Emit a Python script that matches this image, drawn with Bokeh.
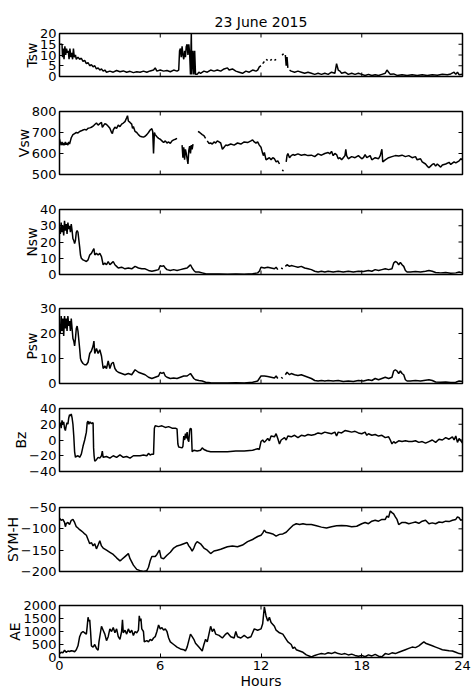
import math
from bokeh.plotting import figure
from bokeh.models import Range1d, FixedTicker
from bokeh.layouts import column
from bokeh.embed import file_html
from bokeh.resources import INLINE

nan = float("nan")
FONT = "DejaVu Sans"

title_text = "23 June 2015"
hour_ticks = [0, 6, 12, 18, 24]
x_label = "Hours"

tsw = [(0.0,15),(0.15,15),(0.18,9),(0.22,13),(0.27,8),(0.32,14),(0.37,10),(0.42,13),(0.47,11),(0.52,12),
       (0.57,8),(0.62,13),(0.68,9),(0.72,11),(0.78,8),(0.83,13),(0.88,9),(0.95,10),(1.0,8),(1.1,9),
       (1.2,8),(1.3,8.5),(1.4,7),(1.5,7.5),(1.6,6),(1.7,6.5),(1.8,5),(1.9,5.5),(2.0,4.5),(2.1,5),
       (2.2,3.5),(2.3,4),(2.4,3),(2.5,3.5),(2.6,2.5),(2.7,3),(2.8,2),(3.0,2.5),(3.2,2),(3.4,2.8),
       (3.6,2.2),(3.8,2.6),(4.0,2),(4.2,2.4),(4.4,1.8),(4.6,2.2),(4.8,2),(5.0,2.5),(5.2,2),(5.4,2.6),
       (5.6,3),(5.7,4),(5.8,2.5),(6.0,3),(6.2,2.5),(6.4,2.8),(6.6,2.2),(6.8,3),(7.0,2.5),(7.1,3),
       (7.15,12),(7.2,13),(7.25,9),(7.3,14),(7.35,10),(7.4,8),(7.45,12),(7.5,9),(7.55,14),(7.6,15),
       (7.65,10),(7.7,15),(7.75,11),(7.8,1),(7.85,20),(7.88,1),(7.95,12),(8.0,1),(8.05,12),(8.1,1),
       (8.2,1),(8.3,2),(8.4,1.5),(8.6,2.5),(8.8,2),(9.0,3),(9.2,2.5),(9.4,3),(9.6,2.5),(9.8,3.5),
       (10.0,4),(10.1,3),(10.3,3.5),(10.5,2.5),(10.7,2),(10.9,1.5),(11.1,2.5),(11.3,2),(11.5,3),(11.7,2.5),
       (11.8,3),(11.9,4.5),(12.0,5),(12.05,nan),(12.1,6),(12.2,7),(12.25,nan),(12.3,8),(12.4,7.5),(12.45,nan),
       (12.55,7.5),(12.65,8),(12.7,nan),(12.8,7.5),(12.9,8),(12.95,nan),(13.0,5.5),(13.05,nan),(13.1,9),(13.15,nan),
       (13.25,10),(13.35,10.5),(13.4,nan),(13.45,10),(13.5,5),(13.55,9),(13.6,4),(13.65,nan),(13.7,3),(13.8,2.5),
       (14.0,2),(14.2,2.5),(14.4,2),(14.6,1.5),(14.8,2),(15.0,1.5),(15.2,1),(15.4,1.5),(15.6,1),(15.8,1.5),
       (16.0,1),(16.2,2),(16.4,1.5),(16.5,6),(16.6,3),(16.7,2.5),(16.8,1.5),(17.0,2),(17.2,1),(17.4,1.5),
       (17.6,1),(17.8,1.5),(18.0,1),(18.2,0.5),(18.4,1),(18.6,0.5),(18.8,0.8),(19.0,0.5),(19.2,1),(19.4,1.5),
       (19.5,3),(19.6,2),(19.7,1),(19.9,1.2),(20.1,0.5),(20.4,0.8),(20.7,0.5),(21.0,0.8),(21.3,0.5),(21.6,0.8),
       (21.9,0.5),(22.2,0.8),(22.5,0.6),(22.8,1),(23.1,0.8),(23.3,1.2),(23.5,2),(23.6,1),(23.7,2),(23.8,0.8),
       (24.0,1)]

vsw = [(0.0,670),(0.05,650),(0.1,640),(0.15,655),(0.2,640),(0.25,650),(0.3,640),(0.35,655),(0.4,642),(0.45,650),
       (0.5,640),(0.55,655),(0.6,645),(0.65,660),(0.7,675),(0.8,690),(0.9,695),(1.0,700),(1.1,698),(1.2,705),
       (1.3,708),(1.4,712),(1.5,715),(1.6,712),(1.7,720),(1.8,722),(1.9,725),(2.0,730),(2.1,738),(2.2,745),
       (2.3,735),(2.4,742),(2.5,748),(2.55,725),(2.6,730),(2.7,742),(2.8,738),(2.9,730),(3.0,720),(3.1,700),
       (3.15,695),(3.2,712),(3.3,725),(3.4,720),(3.5,735),(3.6,728),(3.7,740),(3.8,745),(3.9,752),(4.0,770),
       (4.05,780),(4.1,755),(4.2,748),(4.3,740),(4.35,720),(4.4,728),(4.5,705),(4.6,700),(4.7,690),(4.8,682),
       (4.9,680),(5.0,678),(5.1,682),(5.2,690),(5.3,700),(5.4,712),(5.5,718),(5.55,705),(5.6,600),(5.65,700),
       (5.7,690),(5.8,680),(5.9,672),(6.0,668),(6.1,660),(6.2,652),(6.3,660),(6.4,650),(6.5,655),(6.6,648),
       (6.7,660),(6.8,665),(6.9,668),(7.0,672),(7.05,nan),(7.2,695),(7.22,nan),(7.3,640),(7.35,580),(7.4,630),
       (7.45,570),(7.5,620),(7.55,600),(7.6,575),(7.65,550),(7.7,615),(7.75,635),(7.8,600),(7.85,640),(7.9,620),
       (7.95,645),(8.0,nan),(8.25,705),(8.35,700),(8.5,690),(8.6,685),(8.7,672),(8.75,nan),(8.8,660),(8.9,648),
       (9.0,650),(9.1,645),(9.2,655),(9.3,650),(9.4,660),(9.5,655),(9.6,650),(9.7,620),(9.8,630),(9.9,640),
       (10.0,638),(10.2,645),(10.4,640),(10.6,650),(10.8,645),(11.0,655),(11.2,652),(11.4,660),(11.5,665),(11.6,655),
       (11.7,650),(11.8,655),(11.9,640),(12.0,630),(12.05,615),(12.1,600),(12.15,590),(12.2,605),(12.3,570),(12.4,575),
       (12.5,580),(12.6,570),(12.7,580),(12.8,575),(12.9,560),(13.0,565),(13.1,550),(13.15,nan),(13.25,520),(13.35,518),
       (13.4,nan),(13.5,560),(13.55,590),(13.6,600),(13.7,580),(13.8,590),(13.9,595),(14.0,592),(14.2,598),(14.4,592),
       (14.6,595),(14.8,590),(15.0,592),(15.2,585),(15.4,598),(15.6,592),(15.8,600),(16.0,605),(16.1,598),(16.2,610),
       (16.3,590),(16.4,600),(16.5,595),(16.6,575),(16.7,580),(16.8,570),(16.9,580),(17.0,590),(17.05,620),(17.1,590),
       (17.2,575),(17.4,585),(17.6,580),(17.8,590),(18.0,575),(18.1,580),(18.2,595),(18.3,580),(18.5,590),(18.6,570),
       (18.8,580),(19.0,575),(19.1,590),(19.2,620),(19.25,560),(19.4,570),(19.6,580),(19.8,585),(20.0,590),(20.2,588),
       (20.4,592),(20.6,585),(20.8,590),(21.0,580),(21.2,585),(21.3,570),(21.5,575),(21.6,560),(21.8,550),(21.9,540),
       (22.0,532),(22.1,540),(22.2,548),(22.3,552),(22.4,540),(22.5,550),(22.7,535),(22.8,545),(23.0,550),(23.2,558),
       (23.3,548),(23.5,560),(23.6,555),(23.8,565),(23.9,575),(24.0,570)]

nsw = [(0.0,28),(0.05,25),(0.1,32),(0.15,26),(0.2,30),(0.25,24),(0.3,33),(0.35,27),(0.4,31),(0.45,25),
       (0.5,32),(0.55,28),(0.6,30),(0.65,26),(0.7,31),(0.75,27),(0.8,22),(0.85,21),(0.9,19),(0.95,21),
       (1.0,26),(1.05,27),(1.1,26),(1.2,17),(1.25,12),(1.3,10),(1.4,9),(1.5,8.5),(1.6,8),(1.7,9),
       (1.8,12),(1.9,13),(2.0,15),(2.05,16),(2.1,12),(2.2,13),(2.3,12),(2.4,13),(2.5,11),(2.6,6),
       (2.7,7),(2.8,6),(2.9,8),(3.0,6),(3.1,7),(3.2,8),(3.3,6),(3.4,5),(3.5,4),(3.7,4.5),
       (3.9,3.5),(4.1,4),(4.3,3.5),(4.5,5),(4.7,4),(4.9,3.5),(5.1,3.5),(5.3,2.5),(5.5,2),(5.7,2.5),
       (5.9,3),(6.0,5.5),(6.1,5),(6.2,5.5),(6.3,4),(6.4,3),(6.6,2.5),(6.8,3),(7.0,2.5),(7.2,3),
       (7.4,3.5),(7.6,4),(7.7,5),(7.8,6),(7.9,4),(8.0,2.5),(8.1,1.5),(8.3,1.5),(8.5,1),(8.7,0.5),
       (9.0,0.3),(9.5,0.3),(10.0,0.2),(10.5,0.3),(11.0,0.2),(11.5,0.5),(11.8,1),(11.9,2),(12.0,4.5),(12.2,4),
       (12.4,4.5),(12.6,4),(12.8,3.5),(12.9,4.5),(13.0,3),(13.1,nan),(13.2,4),(13.3,3.5),(13.35,nan),(13.45,5),
       (13.55,6),(13.7,5),(13.8,5.5),(14.0,5),(14.2,4.5),(14.4,5),(14.6,4),(14.8,3.5),(15.0,3),(15.2,2),
       (15.4,1.5),(15.6,2),(15.8,1.5),(16.0,2),(16.3,1.5),(16.6,2),(16.9,1.5),(17.2,2),(17.5,1.5),(17.8,2),
       (18.1,1.8),(18.4,2.5),(18.6,2),(18.8,3),(19.0,2.5),(19.2,3),(19.4,3.5),(19.6,3),(19.8,3.5),(19.9,7),
       (20.0,8),(20.1,7.5),(20.2,6),(20.3,7.5),(20.4,6),(20.5,5),(20.6,2.5),(20.7,1.5),(20.9,1.5),(21.2,1.8),
       (21.5,1.5),(21.8,2),(22.0,2.5),(22.2,2),(22.4,1.2),(22.7,1),(23.0,1.2),(23.3,0.8),(23.6,1),(23.8,1.5),
       (24.0,1)]

psw = [(0.0,22),(0.05,20),(0.1,27),(0.15,21),(0.2,26),(0.25,19),(0.3,27),(0.35,22),(0.4,26),(0.45,21),
       (0.5,27),(0.55,23),(0.6,25),(0.65,21),(0.7,26),(0.75,22),(0.8,18),(0.85,17),(0.9,15),(0.95,18),
       (1.0,22),(1.05,23),(1.1,21),(1.2,14),(1.25,10),(1.3,9),(1.4,8),(1.5,7.5),(1.6,7.5),(1.7,8.5),
       (1.8,12),(1.9,13),(2.0,15),(2.05,17),(2.1,12),(2.2,14),(2.3,12),(2.4,13.5),(2.5,11),(2.6,6),
       (2.7,7),(2.8,6),(2.9,9),(3.0,6),(3.1,8),(3.2,8.5),(3.3,6),(3.4,5),(3.5,4.5),(3.7,4),
       (3.9,3.5),(4.1,4),(4.3,3.5),(4.5,5.5),(4.7,4.5),(4.9,4),(5.1,3.5),(5.3,2.5),(5.5,2),(5.7,2.5),
       (5.9,3),(6.0,4.5),(6.1,4),(6.2,4.5),(6.3,3),(6.4,2.5),(6.6,2),(6.8,2.2),(7.0,2),(7.2,2.5),
       (7.4,3),(7.6,3),(7.7,3.5),(7.8,4),(7.9,3),(8.0,2),(8.1,1.5),(8.3,1.2),(8.5,1),(8.7,0.5),
       (9.0,0.3),(9.5,0.2),(10.0,0.2),(10.5,0.3),(11.0,0.2),(11.5,0.5),(11.8,1),(11.9,2),(12.0,3),(12.2,3),
       (12.4,2.8),(12.6,2.5),(12.8,2.2),(12.9,3),(13.0,2),(13.1,nan),(13.2,2.5),(13.3,2),(13.35,nan),(13.45,3.5),
       (13.55,4.5),(13.7,3.5),(13.8,4),(14.0,3.5),(14.2,3.2),(14.4,3.5),(14.6,3),(14.8,2.5),(15.0,2),(15.2,1.2),
       (15.4,1),(15.6,1.2),(15.8,1),(16.0,1.2),(16.3,1),(16.6,1.2),(16.9,0.8),(17.2,1),(17.5,0.8),(17.8,1.2),
       (18.1,1),(18.4,1.5),(18.6,1.2),(18.8,2),(19.0,1.5),(19.2,2),(19.4,2.5),(19.6,2),(19.8,2.5),(19.9,5),
       (20.0,5.5),(20.1,5),(20.2,4),(20.3,5),(20.4,4),(20.5,3.5),(20.6,1.5),(20.7,1),(20.9,1),(21.2,1.2),
       (21.5,1),(21.8,1.3),(22.0,1.5),(22.2,1.2),(22.4,0.6),(22.7,0.5),(23.0,0.6),(23.3,0.4),(23.6,0.5),(23.8,1),
       (24.0,0.8)]

bz = [(0.0,18),(0.05,22),(0.1,15),(0.15,25),(0.2,20),(0.25,23),(0.3,15),(0.35,12),(0.4,18),(0.45,22),
      (0.5,20),(0.55,28),(0.6,32),(0.65,31),(0.7,33),(0.75,28),(0.8,20),(0.85,5),(0.9,-15),(0.95,-22),
      (1.0,-21),(1.1,-20),(1.2,-22),(1.3,-18),(1.4,-8),(1.5,0),(1.6,10),(1.65,22),(1.7,24),(1.75,20),
      (1.8,23),(1.9,21),(2.0,22),(2.03,-10),(2.06,-20),(2.1,-27),(2.2,-25),(2.3,-22),(2.4,-23),(2.5,-20),
      (2.55,-14),(2.6,-22),(2.8,-21),(3.0,-23),(3.2,-20),(3.4,-22),(3.6,-19),(3.8,-22),(4.0,-21),(4.2,-23),
      (4.4,-20),(4.6,-20),(4.8,-20),(5.0,-19),(5.2,-20),(5.3,-17),(5.4,-19),(5.5,-18),(5.6,-18),(5.65,15),
      (5.7,18),(5.9,17),(6.1,18),(6.3,16),(6.5,17),(6.7,15),(6.9,15),(7.0,14),(7.05,-5),(7.1,-9),
      (7.3,-10),(7.35,-8),(7.4,5),(7.45,0),(7.5,8),(7.55,2),(7.6,10),(7.65,0),(7.7,-2),(7.75,12),
      (7.8,15),(7.85,14),(7.9,-15),(8.0,-13),(8.2,-14),(8.4,-13),(8.5,-10),(8.6,-12),(8.8,-14),(9.0,-15),
      (9.5,-15),(10.0,-15),(10.5,-14),(11.0,-14),(11.5,-13),(11.8,-11),(11.9,-12),(12.0,-2),(12.1,0),(12.2,-3),
      (12.4,2),(12.5,-1),(12.6,5),(12.8,4),(12.9,8),(13.0,2),(13.1,-5),(13.2,0),(13.4,3),(13.5,0),
      (13.6,5),(13.8,4),(14.0,6),(14.2,3),(14.4,6),(14.6,5),(14.8,7),(15.0,6),(15.2,7),(15.4,9),
      (15.6,8),(15.8,10),(16.0,9),(16.2,8),(16.4,10),(16.5,5),(16.6,10),(16.8,9),(17.0,12),(17.2,11),
      (17.4,10),(17.6,11),(17.8,9),(18.0,8),(18.2,10),(18.3,6),(18.4,8),(18.6,6),(18.8,7),(19.0,5),
      (19.2,6),(19.4,3),(19.6,4),(19.7,0),(19.8,-5),(19.9,-2),(20.0,-4),(20.2,-1),(20.4,-2),(20.6,-1),
      (20.8,-2),(21.0,-2),(21.2,-1),(21.4,-3),(21.6,-2),(21.8,-4),(22.0,-2),(22.2,0),(22.4,-3),(22.6,1),
      (22.8,0),(23.0,3),(23.2,1),(23.4,4),(23.5,0),(23.6,5),(23.7,-3),(23.8,2),(23.9,-1),(24.0,-4)]

symh = [(0.0,-75),(0.1,-80),(0.2,-78),(0.3,-85),(0.35,-95),(0.4,-88),(0.5,-85),(0.6,-90),(0.7,-80),(0.8,-78),
        (0.9,-85),(1.0,-95),(1.1,-98),(1.2,-102),(1.3,-105),(1.4,-108),(1.5,-112),(1.6,-115),(1.7,-125),(1.8,-135),
        (1.9,-132),(2.0,-140),(2.1,-135),(2.2,-147),(2.3,-138),(2.4,-128),(2.5,-140),(2.6,-145),(2.8,-150),(3.0,-155),
        (3.2,-160),(3.4,-168),(3.6,-175),(3.7,-172),(3.9,-165),(4.1,-158),(4.2,-170),(4.4,-185),(4.6,-195),(4.8,-198),
        (5.0,-200),(5.2,-198),(5.3,-190),(5.4,-175),(5.5,-165),(5.7,-165),(5.8,-160),(5.95,-150),(6.05,-168),(6.2,-170),
        (6.4,-162),(6.6,-155),(6.8,-145),(7.0,-140),(7.2,-138),(7.4,-135),(7.6,-132),(7.7,-140),(7.8,-145),(7.9,-152),
        (8.0,-145),(8.1,-135),(8.2,-130),(8.4,-135),(8.6,-145),(8.8,-150),(9.0,-158),(9.2,-152),(9.4,-150),(9.6,-148),
        (9.8,-145),(10.0,-142),(10.3,-140),(10.6,-142),(10.9,-138),(11.2,-130),(11.5,-125),(11.8,-118),(12.0,-115),(12.1,-110),
        (12.2,-103),(12.3,-108),(12.5,-110),(12.7,-112),(12.9,-117),(13.1,-113),(13.3,-112),(13.5,-108),(13.7,-100),(13.9,-92),
        (14.1,-88),(14.3,-90),(14.5,-88),(14.7,-90),(15.0,-90),(15.3,-93),(15.6,-96),(15.9,-98),(16.2,-95),(16.5,-93),
        (16.8,-92),(17.1,-93),(17.4,-95),(17.7,-94),(18.0,-88),(18.2,-85),(18.4,-88),(18.6,-82),(18.8,-80),(19.0,-82),
        (19.2,-78),(19.4,-78),(19.5,-70),(19.6,-73),(19.7,-58),(19.8,-62),(19.9,-65),(20.0,-72),(20.1,-78),(20.2,-90),
        (20.4,-85),(20.6,-85),(20.8,-88),(21.0,-86),(21.2,-84),(21.4,-87),(21.6,-82),(21.8,-80),(22.0,-88),(22.2,-86),
        (22.4,-88),(22.6,-84),(22.8,-85),(23.0,-82),(23.2,-83),(23.4,-80),(23.6,-78),(23.7,-72),(23.8,-74),(23.9,-80),
        (24.0,-78)]

ae = [(0.0,150),(0.1,200),(0.2,180),(0.3,280),(0.4,200),(0.5,250),(0.6,230),(0.7,260),(0.8,250),(0.9,220),
      (1.0,300),(1.1,450),(1.2,800),(1.3,950),(1.4,1000),(1.5,950),(1.6,900),(1.65,1200),(1.7,1550),(1.75,1400),
      (1.8,1450),(1.85,1000),(1.9,450),(2.0,400),(2.1,500),(2.2,350),(2.3,280),(2.35,600),(2.45,1000),(2.5,1200),
      (2.6,1050),(2.7,900),(2.8,650),(2.9,800),(3.0,1100),(3.1,1000),(3.2,1150),(3.3,950),(3.4,1100),(3.5,800),
      (3.6,700),(3.7,1000),(3.75,1450),(3.8,950),(3.9,1050),(4.0,900),(4.1,1100),(4.2,950),(4.3,1050),(4.4,850),
      (4.5,1000),(4.6,950),(4.7,1050),(4.75,1600),(4.8,1400),(4.85,1500),(4.9,1100),(5.0,1000),(5.05,600),(5.2,650),
      (5.3,600),(5.4,700),(5.5,650),(5.6,750),(5.7,800),(5.8,1000),(5.9,1250),(6.0,1100),(6.1,1150),(6.2,1050),
      (6.3,1100),(6.4,1000),(6.5,750),(6.6,600),(6.8,500),(7.0,400),(7.2,330),(7.4,300),(7.5,250),(7.6,400),
      (7.7,650),(7.8,900),(7.9,800),(8.0,700),(8.1,550),(8.3,400),(8.5,250),(8.6,500),(8.7,700),(8.8,600),
      (8.9,900),(9.0,1200),(9.1,1000),(9.2,1100),(9.3,900),(9.5,850),(9.7,750),(9.9,900),(10.0,950),(10.2,800),
      (10.4,750),(10.5,1000),(10.6,800),(10.8,750),(11.0,850),(11.2,750),(11.4,800),(11.5,950),(11.6,1100),(11.8,1050),
      (12.0,1100),(12.1,1300),(12.2,1950),(12.3,1600),(12.4,1400),(12.5,1550),(12.6,1350),(12.8,1200),(12.9,1050),(13.1,950),
      (13.3,900),(13.5,700),(13.6,600),(13.8,500),(13.9,350),(14.0,400),(14.1,300),(14.3,250),(14.5,200),(14.7,100),
      (14.9,50),(15.0,20),(15.2,80),(15.4,120),(15.6,150),(15.8,130),(16.0,180),(16.2,150),(16.4,200),(16.6,150),
      (16.8,120),(17.0,150),(17.2,100),(17.4,130),(17.6,80),(17.8,50),(18.0,80),(18.2,30),(18.4,100),(18.6,60),
      (18.8,120),(19.0,50),(19.2,30),(19.4,150),(19.6,120),(19.8,180),(20.0,150),(20.2,200),(20.4,250),(20.6,300),
      (20.8,350),(21.0,400),(21.2,380),(21.4,450),(21.6,550),(21.7,600),(21.8,550),(22.0,500),(22.2,450),(22.4,400),
      (22.6,350),(22.8,300),(23.0,280),(23.2,260),(23.4,250),(23.6,200),(23.8,150),(24.0,130)]

labels = ["Tsw", "Vsw", "Nsw", "Psw", "Bz", "SYM-H", "AE"]
series = [tsw, vsw, nsw, psw, bz, symh, ae]
y_ranges = [(0, 20), (500, 800), (0, 40), (0, 30), (-40, 40), (-200, -50), (0, 2000)]
y_ticks = [[0, 5, 10, 15, 20], [500, 600, 700, 800], [0, 10, 20, 30, 40], [0, 10, 20, 30],
           [-40, -20, 0, 20, 40], [-200, -150, -100, -50], [0, 500, 1000, 1500, 2000]]

# layout: (figure height, top border, bottom border)
layout_spec = [(93, 33, 17), (99, 18, 18), (99, 17, 17), (104, 17, 12),
               (94, 13, 18), (99, 18, 17), (105, 17, 36)]


def style_axis(ax, ticks, label):
    ax.ticker = FixedTicker(ticks=ticks)
    ax.major_tick_in = 4
    ax.major_tick_out = 0
    ax.minor_tick_line_color = None
    ax.axis_line_color = None
    ax.major_tick_line_color = "black"
    ax.major_tick_line_width = 1
    ax.major_label_text_font = FONT
    ax.major_label_text_font_size = "13px"
    ax.major_label_text_color = "black"
    ax.major_label_standoff = 3
    ax.axis_label = label
    ax.axis_label_text_font = FONT
    ax.axis_label_text_font_size = "14px"
    ax.axis_label_text_font_style = "normal"
    ax.axis_label_text_color = "black"
    ax.axis_label_standoff = -3


figs = []
n = len(labels)
for i in range(n):
    h, top, bottom = layout_spec[i]
    last = i == n - 1
    y0, y1 = y_ranges[i]
    p = figure(width=474, height=h, output_backend="svg", toolbar_location=None,
               x_range=Range1d(0, 24), y_range=Range1d(y0, y1),
               x_axis_location="below" if last else None, y_axis_location="left",
               min_border_left=59, min_border_right=12,
               min_border_top=top, min_border_bottom=bottom)
    p.grid.visible = False
    p.outline_line_color = "black"
    p.outline_line_width = 1.5
    p.background_fill_color = "white"
    p.border_fill_color = "white"
    if i == 0:
        p.title.text = title_text
        p.title.align = "center"
        p.title.text_font = FONT
        p.title.text_font_size = "14px"
        p.title.text_font_style = "normal"
        p.title.text_color = "black"
        p.title.standoff = 8
    style_axis(p.yaxis[0], y_ticks[i], labels[i])
    if last:
        style_axis(p.xaxis[0], hour_ticks, x_label)
        p.xaxis[0].axis_label_standoff = 0

    # inward tick marks on the other frame sides (clipped to the frame)
    p.scatter(hour_ticks, [y1] * len(hour_ticks), marker="dash", size=8, angle=math.pi / 2,
              line_color="black", line_width=1)
    if not last:
        p.scatter(hour_ticks, [y0] * len(hour_ticks), marker="dash", size=8, angle=math.pi / 2,
                  line_color="black", line_width=1)
    p.scatter([24] * len(y_ticks[i]), y_ticks[i], marker="dash", size=8,
              line_color="black", line_width=1)

    t = [a for a, b in series[i]]
    v = [b for a, b in series[i]]
    p.line(t, v, line_color="black", line_width=1.5)
    figs.append(p)

layout = column(*figs, spacing=0)
open("out.html", "w").write(file_html(layout, INLINE))
